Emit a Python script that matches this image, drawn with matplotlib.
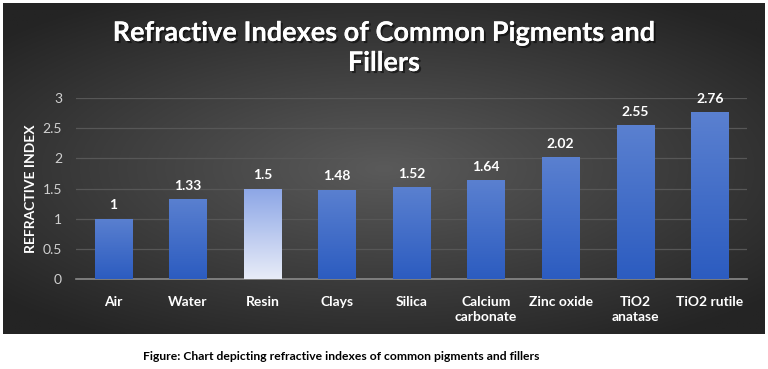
import numpy as np
import matplotlib
matplotlib.use("Agg")
import matplotlib.pyplot as plt
import matplotlib.patheffects as pe

categories = ["Air", "Water", "Resin", "Clays", "Silica", "Calcium\ncarbonate",
              "Zinc oxide", "TiO2\nanatase", "TiO2 rutile"]
values = [1, 1.33, 1.5, 1.48, 1.52, 1.64, 2.02, 2.55, 2.76]
value_labels = ["1", "1.33", "1.5", "1.48", "1.52", "1.64", "2.02", "2.55", "2.76"]
highlight = "Resin"

FONT = ["Lato", "DejaVu Sans"]
plt.rcParams['font.family'] = FONT

W, H = 768, 369
fig = plt.figure(figsize=(W/100, H/100), dpi=100)
fig.patch.set_facecolor("white")

# background panel with radial gradient
bg = fig.add_axes([3/W, 1-334/H, 762/W, 331/H])
bg.set_axis_off()
yy, xx = np.mgrid[-1:1:200j, -1:1:400j]
r = np.sqrt((xx/1.0)**2 + (yy/0.9)**2)
r = np.clip(r/1.35, 0, 1)
c0 = np.array([0x5a, 0x5a, 0x5a])/255
c1 = np.array([0x24, 0x24, 0x24])/255
img = c0[None, None, :]*(1-r[..., None]) + c1[None, None, :]*r[..., None]
bg.imshow(img, aspect='auto', extent=[0, 1, 0, 1])
bg.set_xlim(0, 1); bg.set_ylim(0, 1)

ax = fig.add_axes([76/W, 1-279/H, (747-76)/W, (279-98)/H])
ax.patch.set_alpha(0)
x = np.arange(len(categories))
bars = ax.bar(x, values, width=0.5, facecolor='none', edgecolor='none', zorder=3)
ax.set_xlim(-0.5, len(categories)-0.5)
ax.set_ylim(0, 3)

grad = np.linspace(0, 1, 100)[:, None]
for b, cat in zip(bars, categories):
    if cat == highlight:
        top = np.array([0x8c, 0xa6, 0xe6])/255
        bot = np.array([0xe8, 0xec, 0xf8])/255
    else:
        top = np.array([0x5a, 0x80, 0xd0])/255
        bot = np.array([0x2c, 0x5c, 0xc0])/255
    g = top[None, None, :]*(1-grad[..., None]) + bot[None, None, :]*grad[..., None]
    x0, w, h = b.get_x(), b.get_width(), b.get_height()
    im = ax.imshow(g, aspect='auto', extent=[x0, x0+w, 0, h], zorder=3)
    im.set_clip_path(b)

for b, lab in zip(bars, value_labels):
    ax.text(b.get_x()+b.get_width()/2, b.get_height()+0.12, lab, ha='center', va='bottom',
            color='white', fontsize=10, fontweight='bold', zorder=4)

ax.set_yticks([0, 0.5, 1, 1.5, 2, 2.5, 3])
ax.set_yticklabels(["0", "0.5", "1", "1.5", "2", "2.5", "3"])
ax.yaxis.grid(True, color='#575757', linewidth=0.9, zorder=0)
ax.set_axisbelow(True)
ax.tick_params(axis='y', length=0, colors='#d0d0d0', labelsize=10, pad=10)
ax.set_xticks(x)
ax.set_xticklabels(categories, color='white', fontsize=10, fontweight='bold', linespacing=1.3)
ax.tick_params(axis='x', length=0, pad=12)
for s in ['top', 'right', 'left']:
    ax.spines[s].set_visible(False)
ax.spines['bottom'].set_color('#8a8a8a')
ax.spines['bottom'].set_linewidth(1.2)
ax.set_ylabel("REFRACTIVE INDEX", color='white', fontsize=10, fontweight='bold', labelpad=4)

shadow = [pe.withSimplePatchShadow(offset=(1.5, -1.5), shadow_rgbFace='black', alpha=0.5), pe.Normal()]
fig.text(384/W, 1-33/H, "Refractive Indexes of Common Pigments and", ha='center', va='center',
         color='white', fontsize=19.5, fontweight='bold', path_effects=shadow)
fig.text(384/W, 1-63/H, "Fillers", ha='center', va='center',
         color='white', fontsize=19.5, fontweight='bold', path_effects=shadow)

fig.text(341/W, 1-357/H, "Figure: Chart depicting refractive indexes of common pigments and fillers",
         ha='center', va='center', color='black', fontsize=8.7, fontweight='bold')

fig.savefig("out.png", dpi=100)
